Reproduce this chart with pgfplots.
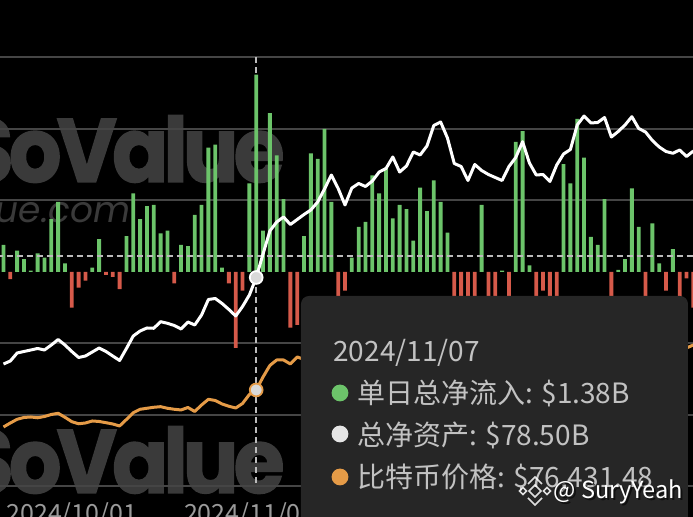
\documentclass[border=0pt]{standalone}
\usepackage{fontspec}
\usepackage{pgfplots}
\pgfplotsset{compat=1.18}
\usepackage{graphicx}
\newfontfamily\cjk{Noto Sans CJK SC}
\newfontfamily\wm{Poppins}
\newfontfamily\wmb{Poppins}[BoldFeatures={FakeBold=1.5}, LetterSpace=-6]
\definecolor{gridc}{HTML}{454545}
\definecolor{upc}{HTML}{6CC46A}
\definecolor{downc}{HTML}{D65A4A}
\definecolor{btcc}{HTML}{E59B47}
\definecolor{tipbg}{HTML}{262626}
\definecolor{tiptext}{HTML}{C2C2C2}
\definecolor{wmc}{HTML}{3A3A3A}
\definecolor{tickc}{HTML}{9A9A9A}
\definecolor{dashc}{HTML}{BBBBBB}
\pgfplotsset{
  base/.style={scale only axis, width=346.5pt, height=258.5pt,
    xmin=-0.5124, xmax=100.95, clip=true},
}
\begin{document}
\begin{tikzpicture}
\fill[black] (0,0) rectangle (346.5pt,258.5pt);
\useasboundingbox (0,0) rectangle (346.5pt,258.5pt);
% watermarks (pixel coordinates, origin top-left)
\begin{scope}[shift={(0pt,258.5pt)},x=0.5pt,y=-0.5pt]
 \node[anchor=base east, inner sep=0, text=wmc, font=\wmb\bfseries\fontsize{45}{45}\selectfont] at (285,182) {\scalebox{0.92}[1]{SoValue}};
 \node[anchor=base east, inner sep=0, text=wmc, font=\wm\itshape\fontsize{18}{18}\selectfont] at (131,223) {sovalue.com};
 \node[anchor=base east, inner sep=0, text=wmc, font=\wmb\bfseries\fontsize{45}{45}\selectfont] at (285,493) {\scalebox{0.92}[1]{SoValue}};
\end{scope}
% daily net inflow bars
\begin{axis}[base, ymin=-1.7133, ymax=1.902,
  axis line style={draw=none}, tick style={draw=none},
  ytick={-1.5,-1,-0.5,0.5,1,1.5}, yticklabel={},
  ymajorgrids, grid style={gridc, line width=1pt},
  xtick={10,36}, xticklabels={2024/10/01,2024/11/06},
  xticklabel style={font=\cjk\fontsize{12.5}{12.5}\selectfont, text=tickc, anchor=north, yshift=7.5pt, inner sep=0pt},
]
\draw[dashc, line width=0.8pt, dash pattern=on 3pt off 2pt] (axis cs:37,1.5) -- (axis cs:37,-1.5);
\addplot[ybar, bar width=0.56, bar shift=0pt, fill=upc, draw=none] coordinates {
(0,0.19)(2,0.15)(3,0.09)(4,0.01)(5,0.13)(6,0.10)(7,0.37)(8,0.49)(9,0.06)(13,0.03)(14,0.23)
(18,0.25)(19,0.55)(20,0.37)(21,0.46)(22,0.47)(23,0.27)(24,0.29)(26,0.19)(27,0.18)(28,0.40)
(29,0.47)(30,0.87)(31,0.89)(32,0.03)(36,0.62)(37,1.38)(38,0.29)(39,1.11)(40,0.815)(41,0.51)
(44,0.25)(45,0.83)(46,0.79)(47,1.00)(48,0.49)(51,0.10)(52,0.315)(53,0.35)(54,0.675)(55,0.55)
(56,0.73)(57,0.375)(58,0.47)(59,0.44)(60,0.22)(61,0.59)(62,0.425)(63,0.64)(64,0.49)(65,0.275)
(70,0.47)(73,0.01)(75,0.91)(76,0.985)(77,0.047)(82,0.755)(83,0.62)(84,1.07)(85,0.80)(86,0.245)
(87,0.19)(88,0.51)(90,0.015)(91,0.09)(92,0.585)(93,0.315)(95,0.34)(96,0.06)(98,0.16)
};
\addplot[ybar, bar width=0.56, bar shift=0pt, fill=downc, draw=none] coordinates {
(1,-0.05)(10,-0.25)(11,-0.11)(12,-0.06)(15,-0.02)(16,-0.035)(17,-0.12)(25,-0.08)(33,-0.08)
(34,-0.53)(35,-0.13)(42,-0.39)(43,-0.37)(49,-0.44)(50,-0.13)(66,-0.67)(67,-0.28)(68,-0.23)
(69,-0.34)(71,-0.29)(72,-0.43)(74,-0.24)(78,-0.57)(79,-0.13)(80,-0.28)(81,-0.21)(89,-0.46)
(94,-0.23)(97,-0.13)(99,-0.19)(100,-0.045)(101,-0.25)
};
\draw[dashc, line width=0.8pt, dash pattern=on 3pt off 2pt] (axis cs:-1,0.112) -- (axis cs:102,0.112);
\end{axis}
% BTC price
\begin{axis}[base, hide axis, ymin=18170, ymax=255330]
\addplot[btcc, line width=1.5pt, line join=round] coordinates {
(0,59460)(1,61290)(2,62990)(3,63820)(4,64040)(5,63680)(6,64270)(7,65190)(8,65740)(9,63910)
(10,61890)(11,60930)(12,61290)(13,62210)(14,61980)(15,61430)(16,60830)(17,59920)(18,62900)(19,66020)
(20,67580)(21,68040)(22,68490)(23,68770)(24,68040)(25,67580)(26,67260)(27,68400)(28,66570)(29,69550)
(30,72160)(31,71610)(32,70010)(33,68950)(34,68170)(35,70240)(36,74370)(37,76431.48)(38,82390)(39,87670)
(40,90190)(41,90190)(42,88360)(43,91570)(44,90500)(45,92300)(46,94300)(47,98400)(48,98900)(49,93000)
(50,91900)(51,95900)(52,97500)(53,95900)(54,96000)(55,98800)(56,97000)(57,99900)(58,97400)(59,96600)
(60,101200)(61,100000)(62,101400)(63,106100)(64,106100)(65,100200)(66,97500)(67,97800)(68,94700)(69,98700)
(70,95800)(71,94200)(72,92600)(73,93400)(74,96900)(75,98100)(76,102100)(77,96900)(78,95000)(79,94600)
(80,94500)(81,96500)(82,100500)(83,99800)(84,104400)(85,106100)(86,103600)(87,104000)(88,104800)(89,102000)
(90,101300)(91,103700)(92,104700)(93,102400)(94,101400)(95,97900)(96,96600)(97,96600)(98,96500)(99,97400)
(100,95700)(101,97070)
};
\addplot[only marks, mark=*, mark size=3.2pt, mark options={fill=white!85!black, draw=btcc, line width=0.9pt}] coordinates {(37,76431.48)};
\end{axis}
% total net assets
\begin{axis}[base, hide axis, ymin=12.34, ymax=155.16]
\addplot[white, line width=1.5pt, line join=round] coordinates {
(0,54.60)(1,55.43)(2,57.64)(3,58.06)(4,58.47)(5,58.89)(6,58.47)(7,59.85)(8,61.37)(9,59.85)
(10,58.06)(11,56.40)(12,56.81)(13,57.92)(14,59.02)(15,58.06)(16,56.81)(17,55.57)(18,58.89)(19,62.34)
(20,63.72)(21,64.55)(22,64.47)(23,66.29)(24,65.85)(25,65.24)(26,64.27)(27,66.21)(28,65.38)(29,68.14)
(30,72.42)(31,72.70)(32,71.32)(33,69.66)(34,67.86)(35,70.49)(36,73.67)(37,78.50)(38,84.99)(39,91.35)
(40,93.83)(41,95.21)(42,93.14)(43,94.52)(44,95.90)(45,97.15)(46,99.36)(47,102.95)(48,106.81)(49,103.09)
(50,98.53)(51,103.22)(52,104.47)(53,103.64)(54,105.16)(55,107.64)(56,108.61)(57,111.79)(58,107.64)(59,109.30)
(60,113.17)(61,112.34)(62,114.83)(63,120.49)(64,121.46)(65,117.04)(66,109.99)(67,109.16)(68,105.30)(69,109.72)
(70,108.06)(71,106.95)(72,106.12)(73,105.30)(74,109.16)(75,111.65)(76,116.01)(77,110.13)(78,106.81)(79,106.95)
(80,105.02)(81,109.58)(82,112.62)(83,113.86)(84,120.63)(85,123.11)(86,121.18)(87,121.32)(88,122.70)(89,117.31)
(90,118.83)(91,120.63)(92,122.92)(93,119.66)(94,118.69)(95,116.35)(96,114.55)(97,113.31)(98,112.81)(99,113.72)
(100,111.93)(101,113.44)
};
\addplot[only marks, mark=*, mark size=3.2pt, mark options={fill=white!85!black, draw=white, line width=0.9pt}] coordinates {(37,78.50)};
\end{axis}
% tooltip and footer (pixel coordinates, origin top-left)
\begin{scope}[shift={(0pt,258.5pt)},x=0.5pt,y=-0.5pt]
 \fill[tipbg, rounded corners=4pt] (301,296) rectangle (688,545);
 \node[anchor=base west, inner sep=0, text=tiptext, font=\cjk\fontsize{14}{14}\selectfont] at (333,362) {2024/11/07};
 \fill[upc] (340,393) circle (4.2pt);
 \node[anchor=base west, inner sep=0, text=tiptext, font=\cjk\fontsize{14}{14}\selectfont] at (357,404) {单日总净流入: \$1.38B};
 \fill[white!90!black] (340,434) circle (4.2pt);
 \node[anchor=base west, inner sep=0, text=tiptext, font=\cjk\fontsize{14}{14}\selectfont] at (357,446) {总净资产: \$78.50B};
 \fill[btcc] (340,477) circle (4.2pt);
 \node[anchor=base west, inner sep=0, text=tiptext, font=\cjk\fontsize{14}{14}\selectfont] at (357,488) {比特币价格: \$76,431.48};
 % footer watermark
 \begin{scope}[draw=white, line width=0.8pt, opacity=0.85]
  \draw (535,485) -- (541,491) -- (535,497) -- (529,491) -- cycle;
  \draw (523,487.5) -- (526.5,491) -- (523,494.5) -- (519.5,491) -- cycle;
  \draw (547,487.5) -- (550.5,491) -- (547,494.5) -- (543.5,491) -- cycle;
  \draw (528,484) -- (535,477) -- (542,484);
  \draw (528,498) -- (535,505) -- (542,498);
 \end{scope}
 \node[anchor=base west, inner sep=0, text=black, opacity=0.6, font=\cjk\fontsize{11.8}{11.8}\selectfont] at (555,501) {@ SuryYeah};
 \node[anchor=base west, inner sep=0, text=white, font=\cjk\fontsize{11.8}{11.8}\selectfont] at (553,499) {@ SuryYeah};
\end{scope}
\end{tikzpicture}
\end{document}
